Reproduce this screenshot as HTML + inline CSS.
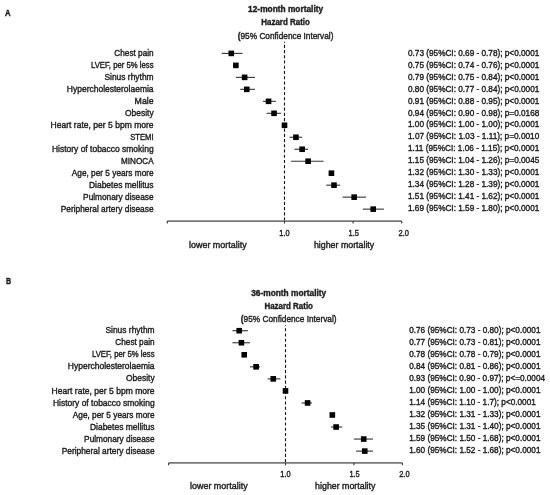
<!DOCTYPE html>
<html><head><meta charset="utf-8"><title>Forest plot</title>
<style>
html,body{margin:0;padding:0;background:#fff;}
body{width:550px;height:495px;overflow:hidden;}
svg{display:block;}
text{font-family:"Liberation Sans",Arial,sans-serif;font-size:9.3px;fill:#1c1c1c;stroke:#1c1c1c;stroke-width:0.4px;}
</style></head><body>
<svg width="550" height="495" viewBox="0 0 550 495">
<rect width="550" height="495" fill="#fff"/>
<text x="5.10" y="15.80" font-weight="bold" textLength="5.57" lengthAdjust="spacingAndGlyphs">A</text>
<text x="285.60" y="12.30" text-anchor="middle" font-weight="bold" textLength="75.04" lengthAdjust="spacingAndGlyphs">12-month mortality</text>
<text x="285.60" y="25.40" text-anchor="middle" font-weight="bold" textLength="48.57" lengthAdjust="spacingAndGlyphs">Hazard Ratio</text>
<text x="285.60" y="38.70" text-anchor="middle" textLength="95.70" lengthAdjust="spacingAndGlyphs"><tspan font-weight="bold">(</tspan>95% Confidence Interval)</text>
<line x1="284.50" y1="41.80" x2="284.50" y2="221.10" stroke="#111" stroke-width="1.1" stroke-dasharray="3.1 2.135" stroke-dashoffset="2.235"/>
<text x="153.60" y="56.00" text-anchor="end" textLength="39.25" lengthAdjust="spacingAndGlyphs">Chest pain</text>
<text x="408.00" y="55.60" textLength="131.27" lengthAdjust="spacingAndGlyphs">0.73 (95%CI: 0.69 - 0.78); p&lt;0.0001</text>
<line x1="221.76" y1="53.40" x2="242.49" y2="53.40" stroke="#333" stroke-width="1.1"/>
<rect x="228.49" y="50.60" width="5.6" height="5.6" fill="#000"/>
<text x="153.60" y="67.98" text-anchor="end" textLength="62.65" lengthAdjust="spacingAndGlyphs">LVEF, per 5% less</text>
<text x="408.00" y="67.58" textLength="131.27" lengthAdjust="spacingAndGlyphs">0.75 (95%CI: 0.74 - 0.76); p&lt;0.0001</text>
<line x1="233.59" y1="65.38" x2="238.10" y2="65.38" stroke="#333" stroke-width="1.1"/>
<rect x="233.06" y="62.58" width="5.6" height="5.6" fill="#000"/>
<text x="153.60" y="79.96" text-anchor="end" textLength="49.14" lengthAdjust="spacingAndGlyphs">Sinus rhythm</text>
<text x="408.00" y="79.56" textLength="131.27" lengthAdjust="spacingAndGlyphs">0.79 (95%CI: 0.75 - 0.84); p&lt;0.0001</text>
<line x1="235.86" y1="77.36" x2="255.02" y2="77.36" stroke="#333" stroke-width="1.1"/>
<rect x="241.84" y="74.56" width="5.6" height="5.6" fill="#000"/>
<text x="153.60" y="91.94" text-anchor="end" textLength="86.76" lengthAdjust="spacingAndGlyphs">Hypercholesterolaemia</text>
<text x="408.00" y="91.54" textLength="131.27" lengthAdjust="spacingAndGlyphs">0.80 (95%CI: 0.77 - 0.84); p&lt;0.0001</text>
<line x1="240.31" y1="89.34" x2="255.02" y2="89.34" stroke="#333" stroke-width="1.1"/>
<rect x="243.97" y="86.54" width="5.6" height="5.6" fill="#000"/>
<text x="153.60" y="103.92" text-anchor="end" textLength="19.00" lengthAdjust="spacingAndGlyphs">Male</text>
<text x="408.00" y="103.52" textLength="131.27" lengthAdjust="spacingAndGlyphs">0.91 (95%CI: 0.88 - 0.95); p&lt;0.0001</text>
<line x1="262.89" y1="101.32" x2="275.83" y2="101.32" stroke="#333" stroke-width="1.1"/>
<rect x="265.75" y="98.52" width="5.6" height="5.6" fill="#000"/>
<text x="153.60" y="115.90" text-anchor="end" textLength="28.52" lengthAdjust="spacingAndGlyphs">Obesity</text>
<text x="408.00" y="115.50" textLength="131.27" lengthAdjust="spacingAndGlyphs">0.94 (95%CI: 0.90 - 0.98); p=0.0168</text>
<line x1="266.69" y1="113.30" x2="281.08" y2="113.30" stroke="#333" stroke-width="1.1"/>
<rect x="271.24" y="110.50" width="5.6" height="5.6" fill="#000"/>
<text x="153.60" y="127.88" text-anchor="end" textLength="102.99" lengthAdjust="spacingAndGlyphs">Heart rate, per 5 bpm more</text>
<text x="408.00" y="127.48" textLength="131.27" lengthAdjust="spacingAndGlyphs">1.00 (95%CI: 1.00 - 1.00); p&lt;0.0001</text>
<rect x="281.70" y="122.48" width="5.6" height="5.6" fill="#000"/>
<text x="153.60" y="139.86" text-anchor="end" textLength="23.38" lengthAdjust="spacingAndGlyphs">STEMI</text>
<text x="408.00" y="139.46" textLength="131.27" lengthAdjust="spacingAndGlyphs">1.07 (95%CI: 1.03 - 1.11); p=0.0010</text>
<line x1="289.50" y1="137.26" x2="302.15" y2="137.26" stroke="#333" stroke-width="1.1"/>
<rect x="293.14" y="134.46" width="5.6" height="5.6" fill="#000"/>
<text x="153.60" y="151.84" text-anchor="end" textLength="101.62" lengthAdjust="spacingAndGlyphs">History of tobacco smoking</text>
<text x="408.00" y="151.44" textLength="131.27" lengthAdjust="spacingAndGlyphs">1.11 (95%CI: 1.06 - 1.15); p&lt;0.0001</text>
<line x1="294.35" y1="149.24" x2="308.13" y2="149.24" stroke="#333" stroke-width="1.1"/>
<rect x="299.35" y="146.44" width="5.6" height="5.6" fill="#000"/>
<text x="153.60" y="163.82" text-anchor="end" textLength="32.51" lengthAdjust="spacingAndGlyphs">MINOCA</text>
<text x="408.00" y="163.42" textLength="131.27" lengthAdjust="spacingAndGlyphs">1.15 (95%CI: 1.04 - 1.26); p=0.0045</text>
<line x1="291.13" y1="161.22" x2="323.58" y2="161.22" stroke="#333" stroke-width="1.1"/>
<rect x="305.33" y="158.42" width="5.6" height="5.6" fill="#000"/>
<text x="153.60" y="175.80" text-anchor="end" textLength="81.78" lengthAdjust="spacingAndGlyphs">Age, per 5 years more</text>
<text x="408.00" y="175.40" textLength="131.27" lengthAdjust="spacingAndGlyphs">1.32 (95%CI: 1.30 - 1.33); p&lt;0.0001</text>
<line x1="328.86" y1="173.20" x2="332.72" y2="173.20" stroke="#333" stroke-width="1.1"/>
<rect x="328.64" y="170.40" width="5.6" height="5.6" fill="#000"/>
<text x="153.60" y="187.78" text-anchor="end" textLength="64.70" lengthAdjust="spacingAndGlyphs">Diabetes mellitus</text>
<text x="408.00" y="187.38" textLength="131.27" lengthAdjust="spacingAndGlyphs">1.34 (95%CI: 1.28 - 1.39); p&lt;0.0001</text>
<line x1="326.24" y1="185.18" x2="340.18" y2="185.18" stroke="#333" stroke-width="1.1"/>
<rect x="331.19" y="182.38" width="5.6" height="5.6" fill="#000"/>
<text x="153.60" y="199.76" text-anchor="end" textLength="70.49" lengthAdjust="spacingAndGlyphs">Pulmonary disease</text>
<text x="408.00" y="199.36" textLength="131.27" lengthAdjust="spacingAndGlyphs">1.51 (95%CI: 1.41 - 1.62); p&lt;0.0001</text>
<line x1="342.60" y1="197.16" x2="366.07" y2="197.16" stroke="#333" stroke-width="1.1"/>
<rect x="351.38" y="194.36" width="5.6" height="5.6" fill="#000"/>
<text x="153.60" y="211.74" text-anchor="end" textLength="92.90" lengthAdjust="spacingAndGlyphs">Peripheral artery disease</text>
<text x="408.00" y="211.34" textLength="131.27" lengthAdjust="spacingAndGlyphs">1.69 (95%CI: 1.59 - 1.80); p&lt;0.0001</text>
<line x1="362.91" y1="209.14" x2="383.89" y2="209.14" stroke="#333" stroke-width="1.1"/>
<rect x="370.42" y="206.34" width="5.6" height="5.6" fill="#000"/>
<line x1="167.30" y1="221.10" x2="401.70" y2="221.10" stroke="#787878" stroke-width="1.6"/>
<line x1="167.30" y1="221.10" x2="167.30" y2="223.50" stroke="#333" stroke-width="1.1"/>
<line x1="284.50" y1="221.10" x2="284.50" y2="223.50" stroke="#333" stroke-width="1.1"/>
<line x1="353.06" y1="221.10" x2="353.06" y2="223.50" stroke="#333" stroke-width="1.1"/>
<line x1="401.70" y1="221.10" x2="401.70" y2="223.50" stroke="#333" stroke-width="1.1"/>
<text x="284.50" y="235.60" text-anchor="middle" font-size="7.3" textLength="10.38" lengthAdjust="spacingAndGlyphs">1.0</text>
<text x="353.76" y="235.60" text-anchor="middle" font-size="7.3" textLength="10.38" lengthAdjust="spacingAndGlyphs">1.5</text>
<text x="403.70" y="235.60" text-anchor="middle" font-size="7.3" textLength="10.38" lengthAdjust="spacingAndGlyphs">2.0</text>
<text x="189.00" y="247.50" textLength="57.67" lengthAdjust="spacingAndGlyphs">lower mortality</text>
<text x="313.90" y="247.50" textLength="60.36" lengthAdjust="spacingAndGlyphs">higher mortality</text>
<text x="6.10" y="283.60" font-weight="bold" textLength="5.16" lengthAdjust="spacingAndGlyphs">B</text>
<text x="288.70" y="296.10" text-anchor="middle" font-weight="bold" textLength="75.04" lengthAdjust="spacingAndGlyphs">36-month mortality</text>
<text x="288.70" y="309.00" text-anchor="middle" font-weight="bold" textLength="48.57" lengthAdjust="spacingAndGlyphs">Hazard Ratio</text>
<text x="288.70" y="322.10" text-anchor="middle" textLength="95.70" lengthAdjust="spacingAndGlyphs"><tspan font-weight="bold">(</tspan>95% Confidence Interval)</text>
<line x1="285.50" y1="325.20" x2="285.50" y2="462.90" stroke="#111" stroke-width="1.1" stroke-dasharray="3.1 2.135" stroke-dashoffset="2.235"/>
<text x="154.60" y="333.30" text-anchor="end" textLength="49.14" lengthAdjust="spacingAndGlyphs">Sinus rhythm</text>
<text x="409.20" y="332.90" textLength="131.27" lengthAdjust="spacingAndGlyphs">0.76 (95%CI: 0.73 - 0.80); p&lt;0.0001</text>
<line x1="232.42" y1="330.70" x2="247.87" y2="330.70" stroke="#333" stroke-width="1.1"/>
<rect x="236.42" y="327.90" width="5.6" height="5.6" fill="#000"/>
<text x="154.60" y="345.34" text-anchor="end" textLength="39.25" lengthAdjust="spacingAndGlyphs">Chest pain</text>
<text x="409.20" y="344.94" textLength="131.27" lengthAdjust="spacingAndGlyphs">0.77 (95%CI: 0.73 - 0.81); p&lt;0.0001</text>
<line x1="232.42" y1="342.74" x2="249.96" y2="342.74" stroke="#333" stroke-width="1.1"/>
<rect x="238.62" y="339.94" width="5.6" height="5.6" fill="#000"/>
<text x="154.60" y="357.38" text-anchor="end" textLength="62.65" lengthAdjust="spacingAndGlyphs">LVEF, per 5% less</text>
<text x="409.20" y="356.98" textLength="131.27" lengthAdjust="spacingAndGlyphs">0.78 (95%CI: 0.78 - 0.79); p&lt;0.0001</text>
<line x1="243.60" y1="354.78" x2="245.75" y2="354.78" stroke="#333" stroke-width="1.1"/>
<rect x="241.44" y="351.98" width="5.6" height="5.6" fill="#000"/>
<text x="154.60" y="369.42" text-anchor="end" textLength="86.76" lengthAdjust="spacingAndGlyphs">Hypercholesterolaemia</text>
<text x="409.20" y="369.02" textLength="131.27" lengthAdjust="spacingAndGlyphs">0.84 (95%CI: 0.81 - 0.86); p&lt;0.0001</text>
<line x1="249.96" y1="366.82" x2="260.06" y2="366.82" stroke="#333" stroke-width="1.1"/>
<rect x="253.30" y="364.02" width="5.6" height="5.6" fill="#000"/>
<text x="154.60" y="381.46" text-anchor="end" textLength="28.52" lengthAdjust="spacingAndGlyphs">Obesity</text>
<text x="409.20" y="381.06" textLength="135.87" lengthAdjust="spacingAndGlyphs">0.93 (95%CI: 0.90 - 0.97); p&lt;=0.0004</text>
<line x1="267.73" y1="378.86" x2="280.36" y2="378.86" stroke="#333" stroke-width="1.1"/>
<rect x="270.46" y="376.06" width="5.6" height="5.6" fill="#000"/>
<text x="154.60" y="393.50" text-anchor="end" textLength="102.99" lengthAdjust="spacingAndGlyphs">Heart rate, per 5 bpm more</text>
<text x="409.20" y="393.10" textLength="131.27" lengthAdjust="spacingAndGlyphs">1.00 (95%CI: 1.00 - 1.00); p&lt;0.0001</text>
<rect x="282.70" y="388.10" width="5.6" height="5.6" fill="#000"/>
<text x="154.60" y="405.54" text-anchor="end" textLength="101.62" lengthAdjust="spacingAndGlyphs">History of tobacco smoking</text>
<text x="409.20" y="405.14" textLength="126.59" lengthAdjust="spacingAndGlyphs">1.14 (95%CI: 1.10 - 1.7); p&lt;0.0001</text>
<line x1="301.57" y1="402.94" x2="311.98" y2="402.94" stroke="#333" stroke-width="1.1"/>
<rect x="304.80" y="400.14" width="5.6" height="5.6" fill="#000"/>
<text x="154.60" y="417.58" text-anchor="end" textLength="81.78" lengthAdjust="spacingAndGlyphs">Age, per 5 years more</text>
<text x="409.20" y="417.18" textLength="131.27" lengthAdjust="spacingAndGlyphs">1.32 (95%CI: 1.31 - 1.33); p&lt;0.0001</text>
<line x1="331.04" y1="414.98" x2="333.60" y2="414.98" stroke="#333" stroke-width="1.1"/>
<rect x="329.52" y="412.18" width="5.6" height="5.6" fill="#000"/>
<text x="154.60" y="429.62" text-anchor="end" textLength="64.70" lengthAdjust="spacingAndGlyphs">Diabetes mellitus</text>
<text x="409.20" y="429.22" textLength="131.27" lengthAdjust="spacingAndGlyphs">1.35 (95%CI: 1.31 - 1.40); p&lt;0.0001</text>
<line x1="331.04" y1="427.02" x2="342.25" y2="427.02" stroke="#333" stroke-width="1.1"/>
<rect x="333.31" y="424.22" width="5.6" height="5.6" fill="#000"/>
<text x="154.60" y="441.66" text-anchor="end" textLength="70.49" lengthAdjust="spacingAndGlyphs">Pulmonary disease</text>
<text x="409.20" y="441.26" textLength="131.27" lengthAdjust="spacingAndGlyphs">1.59 (95%CI: 1.50 - 1.68); p&lt;0.0001</text>
<line x1="353.88" y1="439.06" x2="373.00" y2="439.06" stroke="#333" stroke-width="1.1"/>
<rect x="360.91" y="436.26" width="5.6" height="5.6" fill="#000"/>
<text x="154.60" y="453.70" text-anchor="end" textLength="92.90" lengthAdjust="spacingAndGlyphs">Peripheral artery disease</text>
<text x="409.20" y="453.30" textLength="131.27" lengthAdjust="spacingAndGlyphs">1.60 (95%CI: 1.52 - 1.68); p&lt;0.0001</text>
<line x1="356.12" y1="451.10" x2="373.00" y2="451.10" stroke="#333" stroke-width="1.1"/>
<rect x="361.97" y="448.30" width="5.6" height="5.6" fill="#000"/>
<line x1="168.60" y1="462.90" x2="402.40" y2="462.90" stroke="#787878" stroke-width="1.6"/>
<line x1="168.60" y1="462.90" x2="168.60" y2="465.30" stroke="#333" stroke-width="1.1"/>
<line x1="285.50" y1="462.90" x2="285.50" y2="465.30" stroke="#333" stroke-width="1.1"/>
<line x1="353.88" y1="462.90" x2="353.88" y2="465.30" stroke="#333" stroke-width="1.1"/>
<line x1="402.40" y1="462.90" x2="402.40" y2="465.30" stroke="#333" stroke-width="1.1"/>
<text x="285.50" y="477.40" text-anchor="middle" font-size="7.3" textLength="10.38" lengthAdjust="spacingAndGlyphs">1.0</text>
<text x="354.58" y="477.40" text-anchor="middle" font-size="7.3" textLength="10.38" lengthAdjust="spacingAndGlyphs">1.5</text>
<text x="404.40" y="477.40" text-anchor="middle" font-size="7.3" textLength="10.38" lengthAdjust="spacingAndGlyphs">2.0</text>
<text x="190.00" y="489.20" textLength="57.67" lengthAdjust="spacingAndGlyphs">lower mortality</text>
<text x="315.10" y="489.20" textLength="60.36" lengthAdjust="spacingAndGlyphs">higher mortality</text>
</svg>
</body></html>
